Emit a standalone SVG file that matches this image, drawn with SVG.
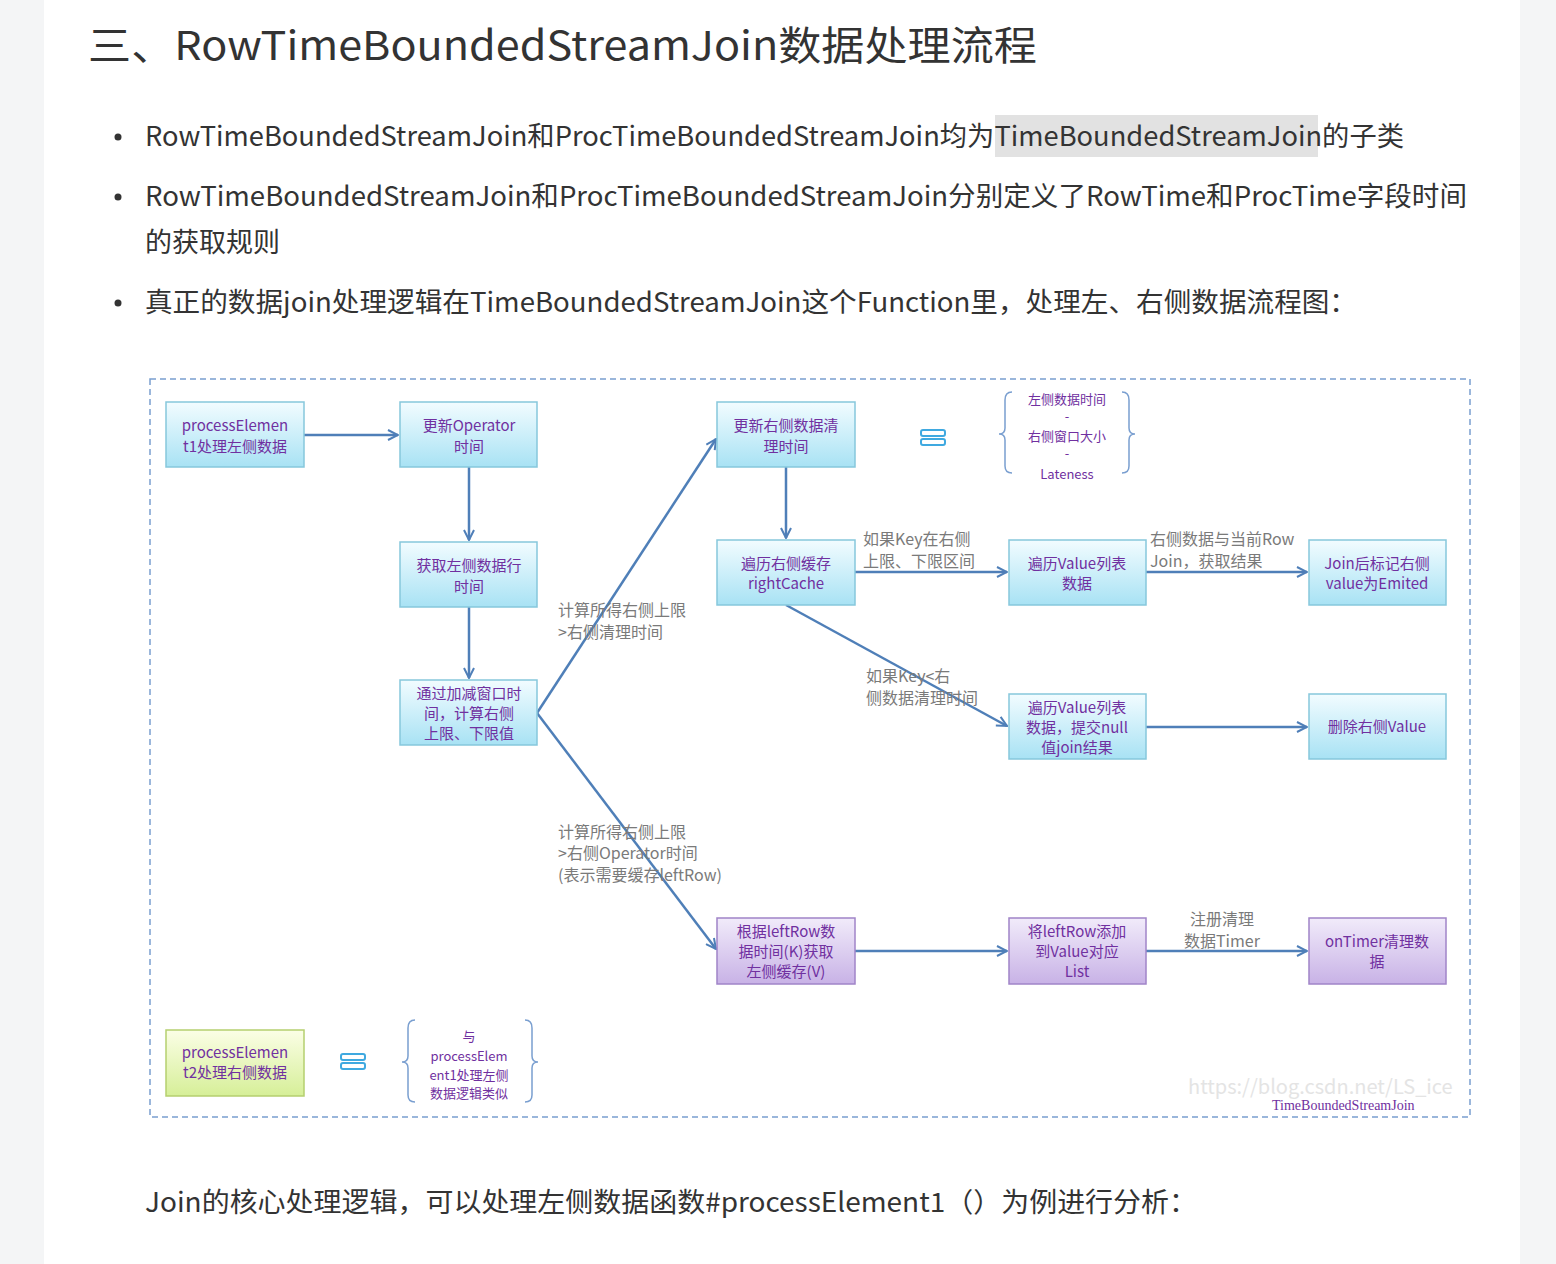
<svg xmlns="http://www.w3.org/2000/svg" width="1556" height="1264" viewBox="0 0 1556 1264">
<defs>
<linearGradient id="gb" x1="0" y1="0" x2="0" y2="1"><stop offset="0" stop-color="#f2fcff"/><stop offset="1" stop-color="#a8e2f4"/></linearGradient>
<linearGradient id="gp" x1="0" y1="0" x2="0" y2="1"><stop offset="0" stop-color="#f1ebfa"/><stop offset="1" stop-color="#c8b2e6"/></linearGradient>
<linearGradient id="gg" x1="0" y1="0" x2="0" y2="1"><stop offset="0" stop-color="#fbfee6"/><stop offset="1" stop-color="#d6ef98"/></linearGradient>
<marker id="ar" viewBox="0 0 12 12" refX="11" refY="6" markerWidth="12" markerHeight="12" markerUnits="userSpaceOnUse" orient="auto"><path d="M1,1 L11,6 L1,11" fill="none" stroke="#4f7fb8" stroke-width="2"/></marker>
</defs>
<style>
text{font-family:"Noto Sans CJK SC","Liberation Sans",sans-serif}
.p{fill:#333;font-size:27px}
.nb rect{fill:url(#gb);stroke:#86c7dc;stroke-width:1.5}
.np rect{fill:url(#gp);stroke:#a084c8;stroke-width:1.5}
.ng rect{fill:url(#gg);stroke:#b5cf6f;stroke-width:1.5}
.t{fill:#7030a0;font-size:15px;text-anchor:middle}
.l{fill:#7a7a7a;font-size:16px}
.s{fill:#7030a0;font-size:13px;text-anchor:middle}
#edges line{stroke:#4f7fb8;stroke-width:2.5;marker-end:url(#ar)}
.br{fill:none;stroke:#7a9fd0;stroke-width:1.5}
</style>
<rect width="1556" height="1264" fill="#f4f5f6"/>
<rect x="44" y="0" width="1476" height="1264" fill="#fff"/>
<text x="88" y="60" fill="#333" font-size="40" textLength="949" lengthAdjust="spacingAndGlyphs">三、RowTimeBoundedStreamJoin数据处理流程</text>
<rect x="995" y="115" width="323" height="42" fill="#e2e2e2"/>
<circle cx="118" cy="137" r="3.5" fill="#333"/><circle cx="118" cy="197" r="3.5" fill="#333"/><circle cx="118" cy="303" r="3.5" fill="#333"/>
<text class="p" x="145" y="146" textLength="1259" lengthAdjust="spacingAndGlyphs">RowTimeBoundedStreamJoin和ProcTimeBoundedStreamJoin均为TimeBoundedStreamJoin的子类</text>
<text class="p" x="145" y="206" textLength="1322" lengthAdjust="spacingAndGlyphs">RowTimeBoundedStreamJoin和ProcTimeBoundedStreamJoin分别定义了RowTime和ProcTime字段时间</text>
<text class="p" x="145" y="252">的获取规则</text>
<text class="p" x="145" y="312" textLength="1212" lengthAdjust="spacingAndGlyphs">真正的数据join处理逻辑在TimeBoundedStreamJoin这个Function里，处理左、右侧数据流程图：</text>
<text class="p" x="145" y="1212" textLength="1052" lengthAdjust="spacingAndGlyphs">Join的核心处理逻辑，可以处理左侧数据函数#processElement1（）为例进行分析：</text>
<rect x="150" y="379" width="1320" height="738" fill="none" stroke="#7a9fd0" stroke-width="1.5" stroke-dasharray="6,4"/>

<g id="edges">
<line x1="304" y1="435" x2="398" y2="435"/>
<line x1="469" y1="467" x2="469" y2="540"/>
<line x1="469" y1="607" x2="469" y2="678"/>
<line x1="537" y1="713" x2="716" y2="439"/>
<line x1="537" y1="713" x2="716" y2="949"/>
<line x1="786" y1="467" x2="786" y2="538"/>
<line x1="855" y1="572" x2="1007" y2="572"/>
<line x1="1146" y1="572" x2="1307" y2="572"/>
<line x1="786" y1="605" x2="1007" y2="726"/>
<line x1="1146" y1="727" x2="1307" y2="727"/>
<line x1="855" y1="951" x2="1007" y2="951"/>
<line x1="1146" y1="951" x2="1307" y2="951"/>
</g>

<g id="n1" class="nb"><rect x="166" y="402" width="138" height="65"/><text class="t" x="235" y="431">processElemen</text><text class="t" x="235" y="452">t1处理左侧数据</text></g>
<g id="n2" class="nb"><rect x="400" y="402" width="137" height="65"/><text class="t" x="469" y="431">更新Operator</text><text class="t" x="469" y="452">时间</text></g>
<g id="n3" class="nb"><rect x="400" y="542" width="137" height="65"/><text class="t" x="469" y="571">获取左侧数据行</text><text class="t" x="469" y="592">时间</text></g>
<g id="n4" class="nb"><rect x="400" y="680" width="137" height="65"/><text class="t" x="469" y="699">通过加减窗口时</text><text class="t" x="469" y="719">间，计算右侧</text><text class="t" x="469" y="739">上限、下限值</text></g>
<g id="n5" class="nb"><rect x="717" y="402" width="138" height="65"/><text class="t" x="786" y="431">更新右侧数据清</text><text class="t" x="786" y="452">理时间</text></g>
<g id="n6" class="nb"><rect x="717" y="540" width="138" height="65"/><text class="t" x="786" y="569">遍历右侧缓存</text><text class="t" x="786" y="589">rightCache</text></g>
<g id="n7" class="nb"><rect x="1009" y="540" width="137" height="65"/><text class="t" x="1077" y="569">遍历Value列表</text><text class="t" x="1077" y="589">数据</text></g>
<g id="n8" class="nb"><rect x="1309" y="540" width="137" height="65"/><text class="t" x="1377" y="569">Join后标记右侧</text><text class="t" x="1377" y="589">value为Emited</text></g>
<g id="n9" class="nb"><rect x="1009" y="694" width="137" height="65"/><text class="t" x="1077" y="713">遍历Value列表</text><text class="t" x="1077" y="733">数据，提交null</text><text class="t" x="1077" y="753">值join结果</text></g>
<g id="n10" class="nb"><rect x="1309" y="694" width="137" height="65"/><text class="t" x="1377" y="732">删除右侧Value</text></g>
<g id="n11" class="np"><rect x="717" y="918" width="138" height="66"/><text class="t" x="786" y="937">根据leftRow数</text><text class="t" x="786" y="957">据时间(K)获取</text><text class="t" x="786" y="977">左侧缓存(V)</text></g>
<g id="n12" class="np"><rect x="1009" y="918" width="137" height="66"/><text class="t" x="1077" y="937">将leftRow添加</text><text class="t" x="1077" y="957">到Value对应</text><text class="t" x="1077" y="977">List</text></g>
<g id="n13" class="np"><rect x="1309" y="918" width="137" height="66"/><text class="t" x="1377" y="947">onTimer清理数</text><text class="t" x="1377" y="967">据</text></g>
<g id="n14" class="ng"><rect x="166" y="1030" width="138" height="66"/><text class="t" x="235" y="1058">processElemen</text><text class="t" x="235" y="1078">t2处理右侧数据</text></g>

<g id="labels">
<text class="l" x="558" y="616">计算所得右侧上限</text><text class="l" x="558" y="638">&gt;右侧清理时间</text>
<text class="l" x="863" y="545">如果Key在右侧</text><text class="l" x="863" y="567">上限、下限区间</text>
<text class="l" x="1150" y="545">右侧数据与当前Row</text><text class="l" x="1150" y="567">Join，获取结果</text>
<text class="l" x="866" y="682">如果Key&lt;右</text><text class="l" x="866" y="704">侧数据清理时间</text>
<text class="l" x="558" y="838">计算所得右侧上限</text><text class="l" x="558" y="859">&gt;右侧Operator时间</text><text class="l" x="558" y="881">(表示需要缓存leftRow)</text>
<text class="l" x="1190" y="925">注册清理</text><text class="l" x="1184" y="947">数据Timer</text>
</g>

<g id="eq1" fill="none" stroke="#3fa9e0" stroke-width="2"><rect x="921" y="430" width="24" height="6" rx="2"/><rect x="921" y="439" width="24" height="6" rx="2"/></g>
<g id="eq2" fill="none" stroke="#3fa9e0" stroke-width="2"><rect x="341" y="1054" width="24" height="6" rx="2"/><rect x="341" y="1063" width="24" height="6" rx="2"/></g>

<g id="brace1">
<path class="br" d="M1012,392 Q1005,392 1005,400 L1005,428 Q1005,434 999,434 Q1005,434 1005,440 L1005,466 Q1005,473 1012,473"/>
<path class="br" d="M1122,392 Q1129,392 1129,400 L1129,428 Q1129,434 1135,434 Q1129,434 1129,440 L1129,466 Q1129,473 1122,473"/>
<text class="s" x="1067" y="404">左侧数据时间</text><text class="s" x="1067" y="421">-</text><text class="s" x="1067" y="441">右侧窗口大小</text><text class="s" x="1067" y="458">-</text><text class="s" x="1067" y="479">Lateness</text>
</g>
<g id="brace2">
<path class="br" d="M415,1020 Q408,1020 408,1028 L408,1056 Q408,1062 402,1062 Q408,1062 408,1068 L408,1095 Q408,1102 415,1102"/>
<path class="br" d="M525,1020 Q532,1020 532,1028 L532,1056 Q532,1062 538,1062 Q532,1062 532,1068 L532,1095 Q532,1102 525,1102"/>
<text class="s" x="469" y="1041" font-size="14">与</text><text class="s" x="469" y="1061" font-size="14">processElem</text><text class="s" x="469" y="1080" font-size="14">ent1处理左侧</text><text class="s" x="469" y="1098" font-size="14">数据逻辑类似</text>
</g>
<text x="1188" y="1094" fill="#e4e4e4" font-size="20" font-family="Liberation Sans,sans-serif">https://blog.csdn.net/LS_ice</text>
<text x="1272" y="1110" fill="#7030a0" font-size="14" style="font-family:'Liberation Serif',serif">TimeBoundedStreamJoin</text>
</svg>
